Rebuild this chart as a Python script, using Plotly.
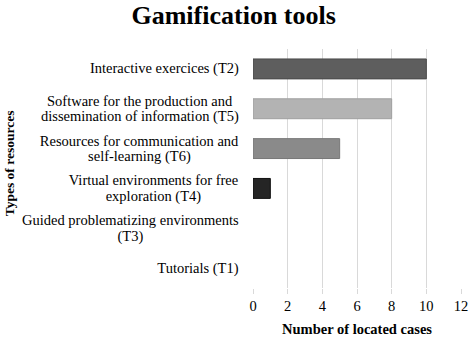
import math
import plotly.graph_objects as go

categories = [
    "Interactive exercices (T2)",
    "Software for the production and<br>dissemination of information (T5)",
    "Resources for communication and<br>self-learning (T6)",
    "Virtual environments for free<br>exploration (T4)",
    "Guided problematizing environments<br>(T3)",
    "Tutorials (T1)",
]
values = [10, 8, 5, 1, 0, 0]
bar_colors = ["#5e5e5e", "#b3b3b3", "#8a8a8a", "#252525", "#777777", "#777777"]
line_colors = ["#4a4a4a", "#a0a0a0", "#777777", "#111111", "#777777", "#777777"]
x_ticks = [0, 2, 4, 6, 8, 10, 12]

FONT = "Liberation Serif, Times New Roman, serif"
LABEL_SIZE = 14.5
LINE_H = 16

# Times / Liberation Serif advance widths (per 1000 em) for measuring label width
_ADV = {
    'a': 444, 'b': 500, 'c': 444, 'd': 500, 'e': 444, 'f': 333, 'g': 500,
    'h': 500, 'i': 278, 'j': 278, 'k': 500, 'l': 278, 'm': 778, 'n': 500,
    'o': 500, 'p': 500, 'q': 500, 'r': 333, 's': 389, 't': 278, 'u': 500,
    'v': 500, 'w': 722, 'x': 500, 'y': 500, 'z': 444, ' ': 250, '(': 333,
    ')': 333, '-': 333, 'T': 611, 'S': 556, 'R': 667, 'V': 722, 'G': 722,
    'I': 333,
}


def text_width(s, size):
    return sum(_ADV.get(ch, 500) for ch in s) / 1000.0 * size


fig = go.Figure()
fig.add_trace(go.Bar(
    y=categories,
    x=values,
    orientation="h",
    marker=dict(color=bar_colors,
                line=dict(color=line_colors,
                          width=[1 if v > 0 else 0 for v in values])),
    width=0.5,
    showlegend=False,
))

annotations = []
for cat in categories:
    lines = cat.split("<br>")
    n = len(lines)
    box_w = math.ceil(max(text_width(ln, LABEL_SIZE) for ln in lines)) + 2
    for i, ln in enumerate(lines):
        annotations.append(dict(
            x=0, xref="paper", y=cat, yref="y", text=ln,
            showarrow=False, xanchor="right", yanchor="middle",
            xshift=-11, yshift=((n - 1) / 2 - i) * LINE_H,
            width=box_w, align="center",
            font=dict(family=FONT, size=LABEL_SIZE, color="#000000")))

annotations.append(dict(
    x=-1.17, xref="paper", y=0.52, yref="paper",
    text="<b>Types of resources</b>", textangle=-90, showarrow=False,
    xanchor="center", yanchor="middle",
    font=dict(family=FONT, size=13.5, color="#000000"),
))

fig.update_layout(
    width=474, height=337,
    margin=dict(l=253, r=13, t=49, b=49, autoexpand=False),
    paper_bgcolor="white", plot_bgcolor="white",
    title=dict(text="<b>Gamification tools</b>", x=0.493, xanchor="center",
               y=0.955, yanchor="middle",
               font=dict(family=FONT, size=26, color="#000000")),
    font=dict(family=FONT, size=14, color="#000000"),
    xaxis=dict(range=[0, 12], tickvals=x_ticks, showgrid=True,
               gridcolor="#d9d9d9", gridwidth=1, zeroline=False,
               showline=False, ticks="outside", ticklen=5,
               tickcolor="#d9d9d9", automargin=False,
               tickfont=dict(family=FONT, size=14.5),
               title=dict(text="<b>Number of located cases</b>",
                          font=dict(family=FONT, size=14.5), standoff=14)),
    yaxis=dict(autorange="reversed", showticklabels=False, showgrid=False,
               zeroline=False, showline=False, ticks="", automargin=False),
    annotations=annotations,
    bargap=0.5,
)

fig.write_html("out.html")
